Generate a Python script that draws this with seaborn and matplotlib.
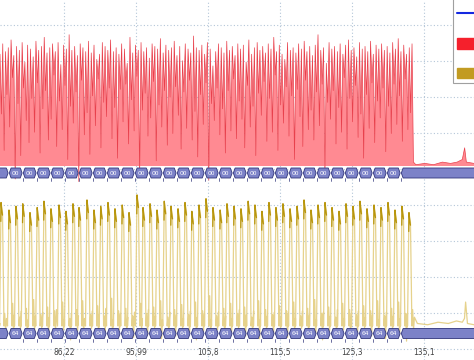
import numpy as np
import pandas as pd
import seaborn as sns
import matplotlib.pyplot as plt
from matplotlib.patches import Polygon, Patch
from matplotlib.lines import Line2D

# x axis (time) ticks as shown
tick_vals = [86.22, 95.99, 105.8, 115.5, 125.3, 135.1]
tick_labels = ['86,22', '95,99', '105,8', '115,5', '125,3', '135,1']

# red channel: peak / trough levels (percent of full scale), 170 cycles
red_peaks = [86, 94, 88, 91, 97, 85, 92, 89, 95, 80, 93, 90, 84, 96, 89, 92, 99, 87, 91, 94,
             88, 95, 78, 93, 90, 101, 89, 92, 85, 94, 91, 88, 96, 87, 93, 82, 86, 95, 92, 89,
             97, 88, 91, 86, 94, 90, 79, 99, 87, 93, 89, 95, 88, 91, 83, 94, 92, 90, 98, 87,
             93, 89, 91, 96, 85, 92, 81, 94, 90, 87, 100, 91, 89, 93, 86, 95, 90, 77, 88, 94,
             91, 87, 96, 89, 92, 85, 94, 90, 93, 80, 97, 86, 91, 95, 89, 92, 87, 94, 90, 99,
             88, 93, 86, 82, 95, 89, 91, 87, 94, 90, 96, 88, 92, 85, 93, 101, 89, 91, 79, 95,
             90, 92, 88, 94, 86, 93, 97, 89, 91, 84, 95, 90, 92, 88, 96, 86, 93, 90, 94, 89,
             92, 87, 95, 90, 98, 88, 93, 86, 91, 94]
red_troughs = [40, 12, 55, 30, 68, -10, 48, 8, 60, 35, 18, 52, 26, 64, 10, 44, 58, 20, 36, 70,
               15, 50, 28, 62, 5, 46, 33, 57, -12, 66, 24, 41, 9, 54, 31, 67, 14, 49, 38, 60,
               21, 45, 6, 59, 34, 63, 17, 51, 27, 69, -9, 43, 56, 23, 37, 65, 4, 47, 30, 58,
               16, 53, 25, 61, 39, 13, 57, 29, 66, 20, 42, 7, 55, 32, 64, -11, 48, 35, 60, 24,
               44, 10, 58, 27, 67, 21, 50, 36, 14, 62, 30, 46, 8, 56, 39, 65, 19, 52, 26, 70,
               12, 47, 33, 61, 23, 54, 5, 59, 38, 15, 66, 28, 43, 20, 57, 31, 63, -8, 49, 36,
               58, 17, 45, 26, 68, 13, 52, 34, 62, 22, 40, 6, 55, 29, 64, 18, 50, 37, 60, 11,
               46, 25, 63, 32, 54, 19, 67, 28, 41, 3]
red_start, red_end = 77.53, 133.85
red_tail_t = [134.0, 135.2, 136.4, 137.6, 138.7, 139.6, 140.3, 140.62, 140.85, 141.9]
red_tail_v = [1, 2, 1, 3, 2, 3, 5, 14, 3, 2]

# gold channel: pulse times and top levels (percent), plus floor noise between pulses
gold_t = [77.67, 78.75, 79.70, 80.62, 81.60, 82.58, 83.50, 84.45, 85.54, 86.49,
          87.44, 88.26, 89.34, 90.29, 91.20, 92.19, 93.14, 94.12, 95.05, 96.13,
          96.95, 97.90, 98.85, 99.83, 100.75, 101.70, 102.65, 103.58, 104.55, 105.50,
          106.45, 107.42, 108.35, 109.30, 110.25, 111.22, 112.15, 113.10, 114.05, 115.00,
          115.95, 116.91, 117.86, 118.81, 119.76, 120.71, 121.66, 122.61, 123.56, 124.51,
          125.46, 126.41, 127.36, 128.31, 129.26, 130.21, 131.16, 132.11, 133.06]
gold_top = [98, 92, 95, 97, 90, 94, 99, 93, 96, 91, 97, 94, 100, 92, 95, 98, 93, 96, 90, 104,
            94, 97, 92, 99, 95, 93, 98, 91, 96, 101, 94, 92, 97, 95, 93, 99, 96, 91, 98, 94,
            97, 93, 95, 100, 92, 96, 98, 94, 91, 97, 95, 99, 93, 96, 94, 98, 92, 95, 90]
gold_floor = [10, 18, 7, 14, 21, 9, 15, 12, 19, 6, 13, 20, 9, 16, 8, 22, 12, 14, 8, 18,
              10, 15, 20, 7, 13, 17, 9, 19, 12, 24, 8, 14, 18, 10, 15, 7, 20, 13, 9, 16,
              12, 19, 8, 14, 21, 10, 15, 7, 18, 13, 9, 16, 12, 20, 8, 14, 19, 10, 13]
gold_floor2 = [6, 9, 12, 5, 8, 11, 7, 13, 5, 10, 8, 6, 12, 9, 14, 5, 10, 7, 11, 6,
               13, 8, 5, 11, 9, 6, 12, 7, 10, 5, 11, 8, 6, 13, 9, 12, 5, 8, 11, 7,
               10, 6, 12, 9, 5, 11, 8, 13, 6, 10, 12, 7, 9, 5, 11, 8, 6, 10, 7]
gold_dip = [-4, -8, -3, -10, -5, -2, -9, -6, -3, -11, -4, -7, -2, -8, -5, -10, -3, -6, -9, -4,
            -7, -2, -10, -5, -8, -3, -6, -11, -4, -7, -3, -9, -5, -2, -8, -6, -10, -4, -7, -3,
            -9, -5, -2, -8, -6, -11, -4, -7, -3, -9, -5, -2, -8, -6, -10, -4, -7, -12, -3]
gold_tail_t = [134.2, 135.6, 137.0, 138.4, 139.5, 140.3, 140.6, 140.75, 141.0, 141.9]
gold_tail_v = [2, 1, 3, 2, 4, 3, 6, 19, 2, 1]

# decoded bus frames (start times) and their values
bus_t = [78.71, 80.61, 82.51, 84.41, 86.31, 88.22, 90.12, 92.02, 93.92, 95.82,
         97.72, 99.62, 101.52, 103.42, 105.32, 107.23, 109.13, 111.03, 112.93, 114.83,
         116.73, 118.63, 120.53, 122.43, 124.33, 126.24, 128.14, 130.04, 131.94]
bus_top_label = '00'
bus_bot_label = '64'

sns.set_style('white')
fig = plt.figure(figsize=(4.74, 3.6), dpi=100)
ax = fig.add_axes([0, 0, 1, 1])

px = 7.365  # pixels per time unit
x0 = 86.22 - 64 / px
ax.set_xlim(x0, x0 + 474 / px)
ax.set_ylim(360, 0)

red_base, red_span = 166, 130
gold_base, gold_span = 326, 126

# red trace
dt = (red_end - red_start) / len(red_peaks)
t_r, v_r = [red_start - dt / 2], [0]
for i, (p, q) in enumerate(zip(red_peaks, red_troughs)):
    t_r += [red_start + i * dt, red_start + (i + 0.5) * dt]
    v_r += [p, q]
t_r += red_tail_t
v_r += red_tail_v
red = pd.DataFrame({'t': t_r, 'y': red_base - np.array(v_r) / 100 * red_span})
ax.fill_between(red['t'], red_base, red['y'], color='#ff8a92', lw=0, zorder=2)
sns.lineplot(data=red, x='t', y='y', ax=ax, color='#e8404c', lw=0.5,
             estimator=None, sort=False, zorder=3)

# gold trace
w = 0.2
t_g, v_g = [x0], [2]
for t, h, f, f2, d in zip(gold_t, gold_top, gold_floor, gold_floor2, gold_dip):
    t_g += [t - w, t, t + w, t + 2 * w, t + 0.5, t + 0.62, t + 0.74]
    v_g += [0, h, h - 8, 0, f, d, f2]
t_g += gold_tail_t
v_g += gold_tail_v
gold = pd.DataFrame({'t': t_g, 'y': gold_base - np.array(v_g) / 100 * gold_span})
sns.lineplot(data=gold, x='t', y='y', ax=ax, color='#e6d28c', lw=0.9,
             estimator=None, sort=False, zorder=3)
for t, h in zip(gold_t, gold_top):
    ax.plot([t - 0.03, t, t + 0.08, t + w], gold_base - np.array([h - 15, h, h - 5, h - 10]) / 100 * gold_span,
            color='#b8960e', lw=0.9, zorder=4)

# bus lanes
def draw_bus(yc, label):
    hh, d = 5, 1.8 / px
    kw = dict(closed=True, fc='#7c82c8', ec='#30357a', lw=0.6, zorder=5)
    for a, b in zip(bus_t[:-1], bus_t[1:]):
        a1, b1 = a + 0.6 / px, b - 0.6 / px
        ax.add_patch(Polygon([(a1, yc), (a1 + d, yc - hh), (b1 - d, yc - hh), (b1, yc),
                              (b1 - d, yc + hh), (a1 + d, yc + hh)], **kw))
        ax.text((a + b) / 2, yc + 0.3, label, color='white', fontsize=4.3,
                ha='center', va='center', zorder=6)
        ax.plot([b, b], [yc + hh, yc + hh + 3], color='#30357a', lw=0.5, zorder=5)
    first = bus_t[0] - 0.6 / px
    ax.add_patch(Polygon([(x0 - 1, yc - hh), (first - d, yc - hh), (first, yc),
                          (first - d, yc + hh), (x0 - 1, yc + hh)], **kw))
    last = bus_t[-1] + 0.6 / px
    ax.add_patch(Polygon([(last, yc), (last + d, yc - hh), (x0 + 80, yc - hh),
                          (x0 + 80, yc + hh), (last + d, yc + hh)], **kw))

draw_bus(173, bus_top_label)
draw_bus(333.5, bus_bot_label)

# grid and ticks
ax.set_xticks(tick_vals, tick_labels)
ax.set_yticks([25 + 36 * k for k in range(10)])
ax.grid(True, color='#b4c6d8', ls=(0, (1, 2)), lw=0.8, zorder=0)
ax.set_axisbelow(True)
ax.tick_params(axis='x', direction='in', length=0, pad=-8.5, labelsize=5.5, labelcolor='#404040')
ax.tick_params(axis='y', length=0, labelleft=False)
ax.set_xlabel('')
ax.set_ylabel('')
for s in ax.spines.values():
    s.set_visible(False)

handles = [Line2D([], [], color='#1428e0', lw=1.5),
           Patch(color='#f5202c'), Patch(color='#c29b22')]
leg = fig.legend(handles, ['', '', ''], loc='upper left', bbox_to_anchor=(453 / 474, 1.051),
                 fontsize=8, handlelength=4, handleheight=1.1, labelspacing=1.65,
                 borderpad=0.35, borderaxespad=0, fancybox=False, title=' ',
                 title_fontsize=4, framealpha=1, edgecolor='#a0a0a0')
leg.get_frame().set_linewidth(0.8)

fig.savefig('out.png', dpi=100)
